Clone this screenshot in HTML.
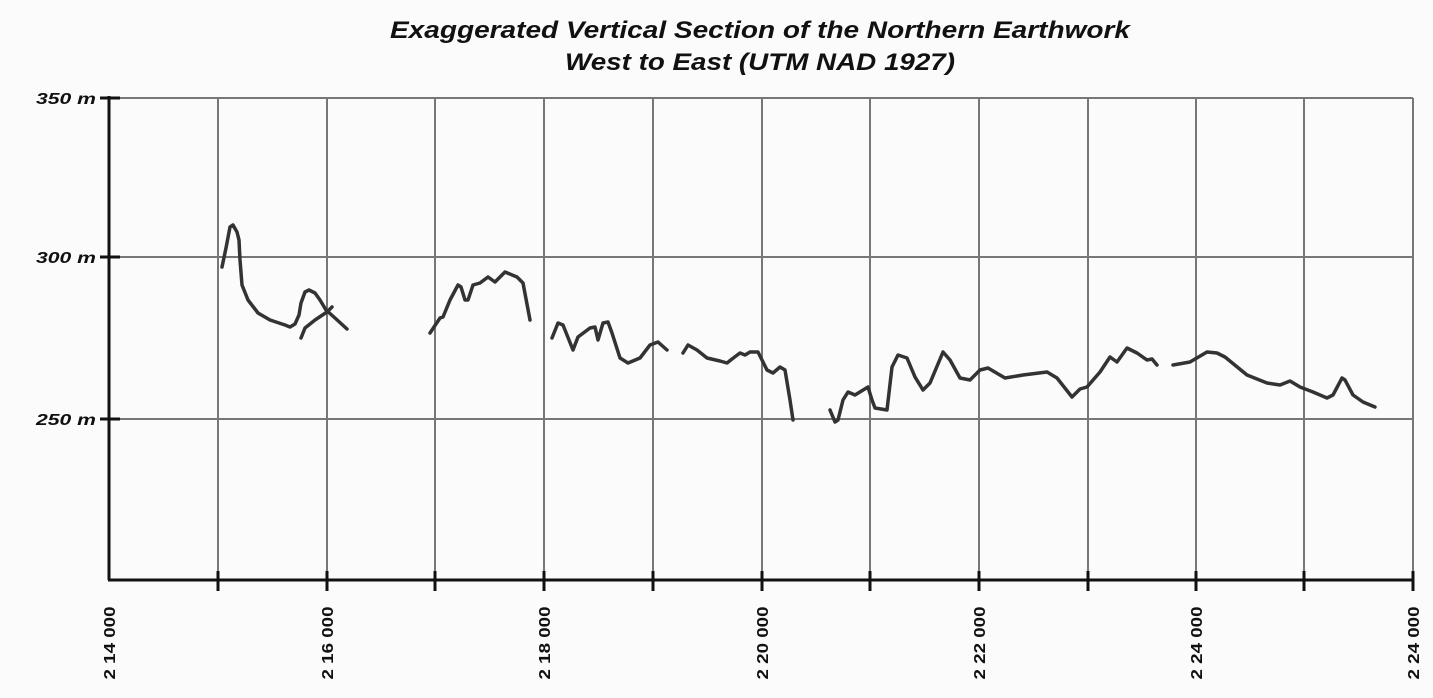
<!DOCTYPE html>
<html><head><style>
html,body{margin:0;padding:0;background:#fbfbfb;}
svg{display:block;}
text{font-family:"Liberation Sans",Arial,sans-serif;font-weight:bold;fill:#111;}
</style></head><body>
<svg width="1433" height="698" viewBox="0 0 1433 698">
<rect width="1433" height="698" fill="#fbfbfb"/>
<text x="760" y="38" font-size="24" font-style="italic" text-anchor="middle" textLength="740" lengthAdjust="spacingAndGlyphs">Exaggerated Vertical Section of the Northern Earthwork</text>
<text x="760" y="70" font-size="24" font-style="italic" text-anchor="middle" textLength="390" lengthAdjust="spacingAndGlyphs">West to East (UTM NAD 1927)</text>
<g stroke="#777" stroke-width="2">
<line x1="109" y1="98" x2="1413" y2="98"/>
<line x1="109" y1="257" x2="1413" y2="257"/>
<line x1="109" y1="419" x2="1413" y2="419"/>
<line x1="218" y1="98" x2="218" y2="580"/>
<line x1="327" y1="98" x2="327" y2="580"/>
<line x1="435" y1="98" x2="435" y2="580"/>
<line x1="544" y1="98" x2="544" y2="580"/>
<line x1="653" y1="98" x2="653" y2="580"/>
<line x1="762" y1="98" x2="762" y2="580"/>
<line x1="870" y1="98" x2="870" y2="580"/>
<line x1="979" y1="98" x2="979" y2="580"/>
<line x1="1088" y1="98" x2="1088" y2="580"/>
<line x1="1196" y1="98" x2="1196" y2="580"/>
<line x1="1304" y1="98" x2="1304" y2="580"/>
<line x1="1413" y1="98" x2="1413" y2="580"/>
</g>
<g stroke="#111" stroke-width="3">
<line x1="109" y1="96" x2="109" y2="580"/>
<line x1="108" y1="580" x2="1414" y2="580"/>
<line x1="100" y1="98" x2="120" y2="98"/>
<line x1="100" y1="257" x2="120" y2="257"/>
<line x1="100" y1="419" x2="120" y2="419"/>
<line x1="218" y1="571" x2="218" y2="591"/>
<line x1="327" y1="571" x2="327" y2="591"/>
<line x1="435" y1="571" x2="435" y2="591"/>
<line x1="544" y1="571" x2="544" y2="591"/>
<line x1="653" y1="571" x2="653" y2="591"/>
<line x1="762" y1="571" x2="762" y2="591"/>
<line x1="870" y1="571" x2="870" y2="591"/>
<line x1="979" y1="571" x2="979" y2="591"/>
<line x1="1088" y1="571" x2="1088" y2="591"/>
<line x1="1196" y1="571" x2="1196" y2="591"/>
<line x1="1304" y1="571" x2="1304" y2="591"/>
<line x1="1413" y1="571" x2="1413" y2="591"/>
</g>
<g font-size="16" font-style="italic" text-anchor="end">
<text x="96" y="104" textLength="60" lengthAdjust="spacingAndGlyphs">350 m</text>
<text x="96" y="263" textLength="60" lengthAdjust="spacingAndGlyphs">300 m</text>
<text x="96" y="425" textLength="60" lengthAdjust="spacingAndGlyphs">250 m</text>
</g>
<g font-size="16" text-anchor="middle">
<text transform="translate(115,643) rotate(-90)" textLength="73" lengthAdjust="spacingAndGlyphs">2 14 000</text>
<text transform="translate(333,643) rotate(-90)" textLength="73" lengthAdjust="spacingAndGlyphs">2 16 000</text>
<text transform="translate(550,643) rotate(-90)" textLength="73" lengthAdjust="spacingAndGlyphs">2 18 000</text>
<text transform="translate(768,643) rotate(-90)" textLength="73" lengthAdjust="spacingAndGlyphs">2 20 000</text>
<text transform="translate(985,643) rotate(-90)" textLength="73" lengthAdjust="spacingAndGlyphs">2 22 000</text>
<text transform="translate(1202,643) rotate(-90)" textLength="73" lengthAdjust="spacingAndGlyphs">2 24 000</text>
<text transform="translate(1419,643) rotate(-90)" textLength="73" lengthAdjust="spacingAndGlyphs">2 24 000</text>
</g>
<g fill="none" stroke="#333" stroke-width="3.5" stroke-linejoin="round" stroke-linecap="round">
<polyline points="222,267 226,248 230,227 233,225 237,232 239,240 240,260 242,285 248,300 258,313 270,320 285,325 290,327 295,324 299,315 301,303 305,292 309,290 315,293 320,300 326,310 335,318 347,329"/>
<polyline points="301,338 305,328 315,320 327,312 332,307"/>
<polyline points="430,333 440,318 443,317 450,300 458,285 461,287 465,300 468,300 473,285 480,283 488,277 495,282 505,272 517,277 523,283 530,320"/>
<polyline points="552,338 558,323 563,325 573,350 578,337 590,328 595,327 598,340 603,323 608,322 612,333 620,358 628,363 640,358 650,345 658,342 667,350"/>
<polyline points="683,353 688,345 697,350 707,358 720,361 727,363 732,359 740,353 745,355 750,352 758,352 767,370 773,373 780,367 785,370 790,400 793,420"/>
<polyline points="830,410 835,422 838,420 843,400 848,392 855,395 868,387 872,400 875,408 887,410 892,367 898,355 907,358 915,377 923,390 930,383 943,352 950,360 960,378 970,380 980,370 988,368 1005,378 1023,375 1047,372 1057,378 1072,397 1080,389 1087,387 1100,372 1110,357 1117,362 1127,348 1137,353 1147,360 1152,359 1157,365"/>
<polyline points="1173,365 1190,362 1207,352 1217,353 1225,357 1247,375 1267,383 1280,385 1290,381 1300,387 1313,392 1327,398 1333,395 1342,378 1345,380 1353,395 1363,402 1375,407"/>
</g>
</svg>
</body></html>
